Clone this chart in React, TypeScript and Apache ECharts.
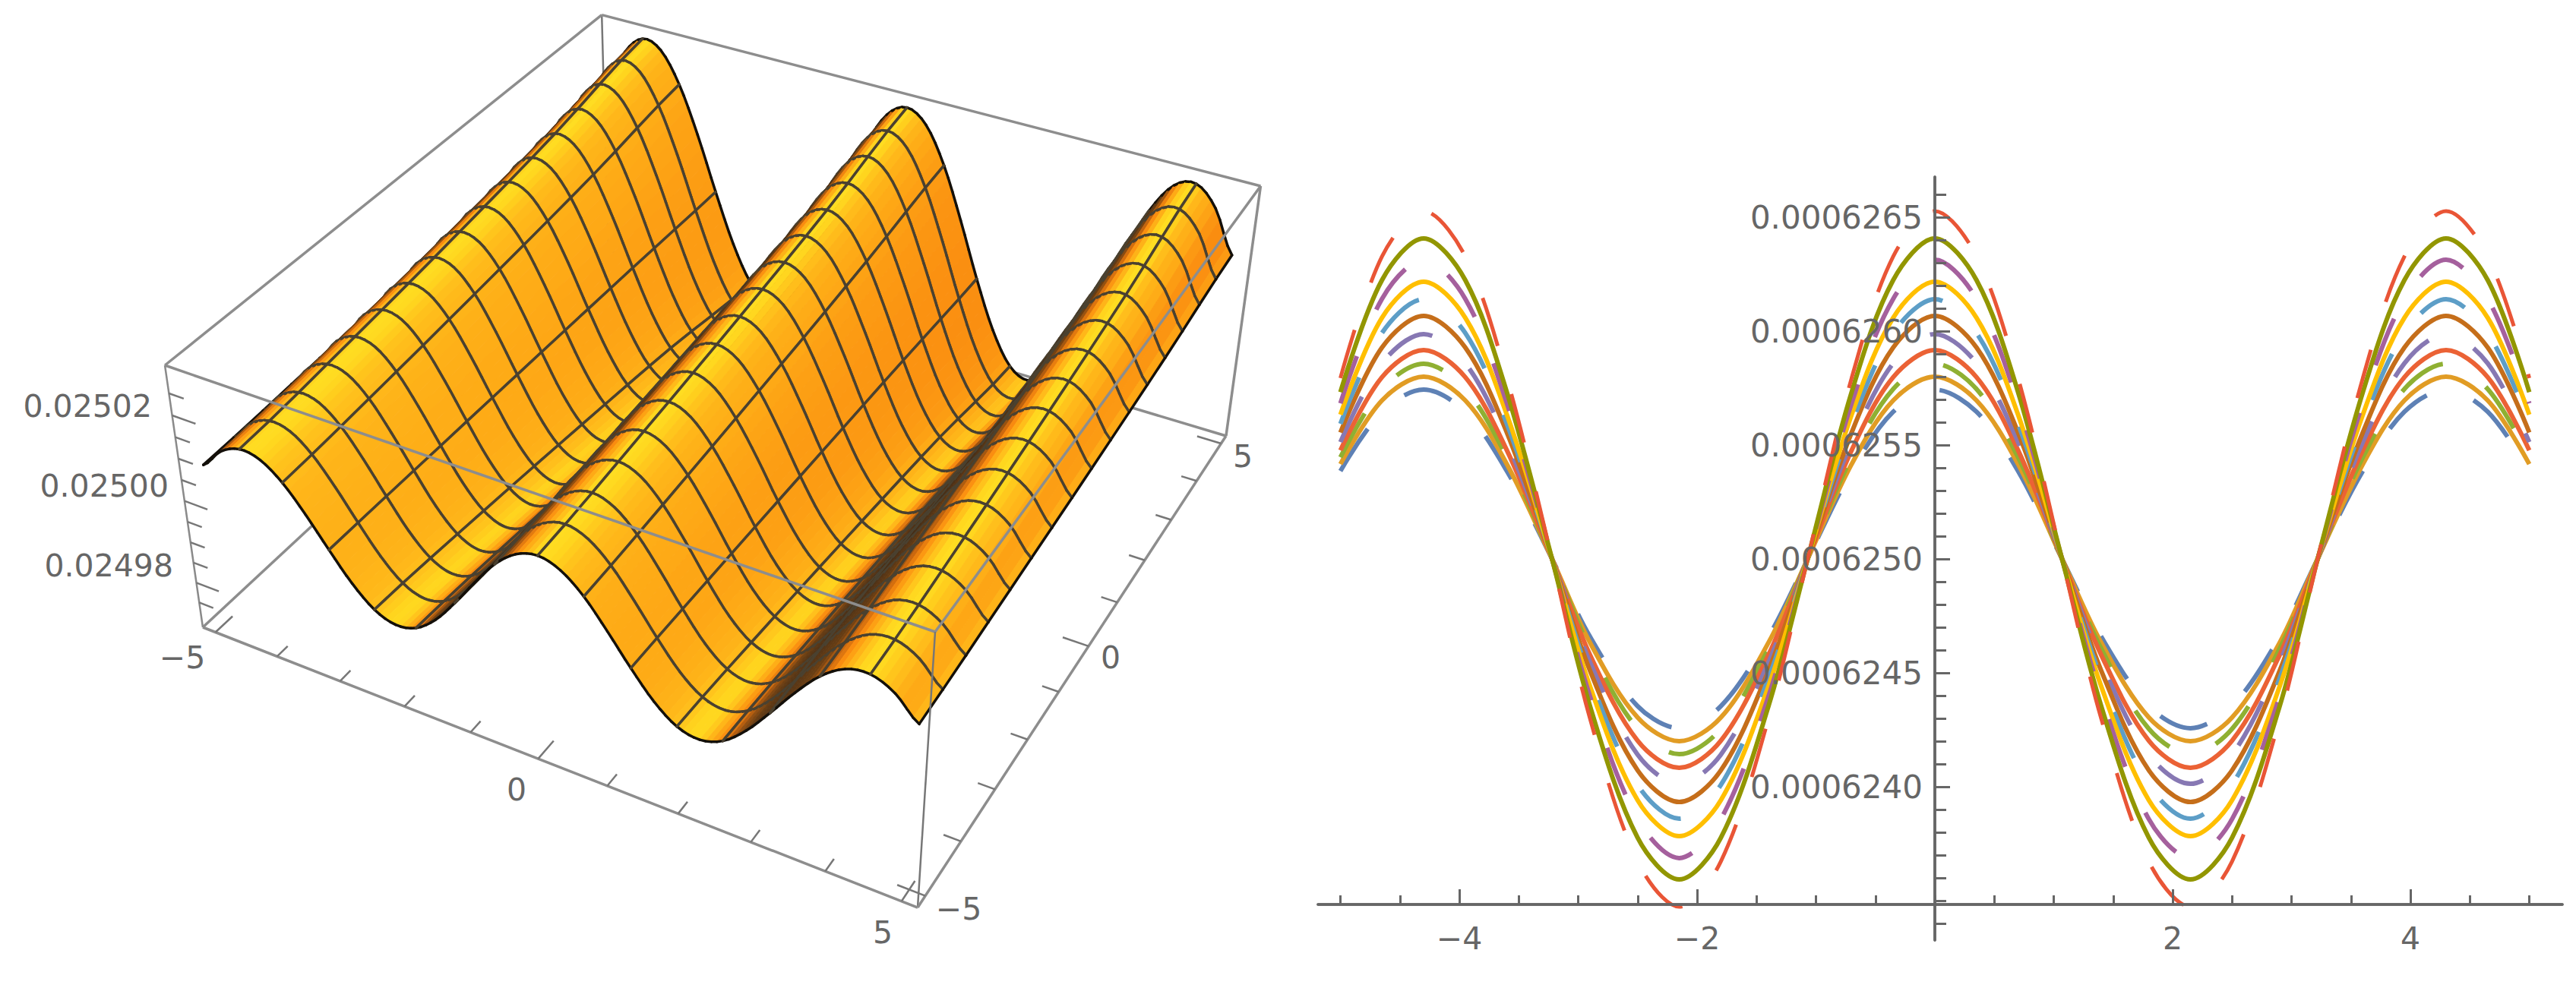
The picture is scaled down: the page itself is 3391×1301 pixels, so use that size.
import React, { useEffect, useRef } from "react";
import * as echarts from "echarts";

// ---------- right panel: slices, values in units of 1e-8 ----------
const sliceX = [-5, -4.65, -4.3, -3.95, -3.6, -3.22, -2.9, -2.5, -2.15, -1.8, -1.4, -1.07, -0.7, -0.35, 0, 0.35, 0.7, 1.07, 1.4, 1.8, 2.15, 2.5, 2.9, 3.22, 3.6, 3.95, 4.3, 4.65, 5];
const sliceBlue = [62538.6, 62564.6, 62574.3, 62564.6, 62538.6, 62500, 62465.8, 62435.4, 62425.7, 62435.4, 62465.8, 62500, 62538.6, 62564.6, 62574.3, 62564.6, 62538.6, 62500, 62465.8, 62435.4, 62425.7, 62435.4, 62465.8, 62500, 62538.6, 62564.6, 62574.3, 62564.6, 62538.6];
const sliceOrange = [62541.6, 62569.6, 62580, 62569.6, 62541.6, 62500, 62463.2, 62430.4, 62420, 62430.4, 62463.2, 62500, 62541.6, 62569.6, 62580, 62569.6, 62541.6, 62500, 62463.2, 62430.4, 62420, 62430.4, 62463.2, 62500, 62541.6, 62569.6, 62580, 62569.6, 62541.6];
const sliceGreen = [62544.6, 62574.6, 62585.7, 62574.6, 62544.6, 62500, 62460.6, 62425.4, 62414.3, 62425.4, 62460.6, 62500, 62544.6, 62574.6, 62585.7, 62574.6, 62544.6, 62500, 62460.6, 62425.4, 62414.3, 62425.4, 62460.6, 62500, 62544.6, 62574.6, 62585.7, 62574.6, 62544.6];
const sliceRed = [62547.7, 62579.8, 62591.7, 62579.8, 62547.7, 62500, 62457.8, 62420.2, 62408.3, 62420.2, 62457.8, 62500, 62547.7, 62579.8, 62591.7, 62579.8, 62547.7, 62500, 62457.8, 62420.2, 62408.3, 62420.2, 62457.8, 62500, 62547.7, 62579.8, 62591.7, 62579.8, 62547.7];
const slicePurple = [62551.3, 62585.9, 62598.7, 62585.9, 62551.3, 62500, 62454.6, 62414.1, 62401.3, 62414.1, 62454.6, 62500, 62551.3, 62585.9, 62598.7, 62585.9, 62551.3, 62500, 62454.6, 62414.1, 62401.3, 62414.1, 62454.6, 62500, 62551.3, 62585.9, 62598.7, 62585.9, 62551.3];
const sliceBrown = [62555.5, 62592.8, 62606.7, 62592.8, 62555.5, 62500, 62450.9, 62407.2, 62393.3, 62407.2, 62450.9, 62500, 62555.5, 62592.8, 62606.7, 62592.8, 62555.5, 62500, 62450.9, 62407.2, 62393.3, 62407.2, 62450.9, 62500, 62555.5, 62592.8, 62606.7, 62592.8, 62555.5];
const sliceSky = [62559.3, 62599.2, 62614, 62599.2, 62559.3, 62500, 62447.6, 62400.8, 62386, 62400.8, 62447.6, 62500, 62559.3, 62599.2, 62614, 62599.2, 62559.3, 62500, 62447.6, 62400.8, 62386, 62400.8, 62447.6, 62500, 62559.3, 62599.2, 62614, 62599.2, 62559.3];
const sliceYellow = [62563.3, 62605.9, 62621.7, 62605.9, 62563.3, 62500, 62444, 62394.1, 62378.3, 62394.1, 62444, 62500, 62563.3, 62605.9, 62621.7, 62605.9, 62563.3, 62500, 62444, 62394.1, 62378.3, 62394.1, 62444, 62500, 62563.3, 62605.9, 62621.7, 62605.9, 62563.3];
const sliceMagenta = [62568.3, 62614.2, 62631.3, 62614.2, 62568.3, 62500, 62439.6, 62385.8, 62368.7, 62385.8, 62439.6, 62500, 62568.3, 62614.2, 62631.3, 62614.2, 62568.3, 62500, 62439.6, 62385.8, 62368.7, 62385.8, 62439.6, 62500, 62568.3, 62614.2, 62631.3, 62614.2, 62568.3];
const sliceOlive = [62573.2, 62622.4, 62640.7, 62622.4, 62573.2, 62500, 62435.3, 62377.6, 62359.3, 62377.6, 62435.3, 62500, 62573.2, 62622.4, 62640.7, 62622.4, 62573.2, 62500, 62435.3, 62377.6, 62359.3, 62377.6, 62435.3, 62500, 62573.2, 62622.4, 62640.7, 62622.4, 62573.2];
const sliceCoral = [62579.4, 62632.8, 62652.7, 62632.8, 62579.4, 62500, 62429.8, 62367.2, 62347.3, 62367.2, 62429.8, 62500, 62579.4, 62632.8, 62652.7, 62632.8, 62579.4, 62500, 62429.8, 62367.2, 62347.3, 62367.2, 62429.8, 62500, 62579.4, 62632.8, 62652.7, 62632.8, 62579.4];

const slices: [number[], string, boolean, number][] = [
  [sliceBlue, "#5E81B5", true, 6],
  [sliceOrange, "#E19C24", false, 6],
  [sliceGreen, "#8FB032", true, 6],
  [sliceRed, "#EB6235", false, 6],
  [slicePurple, "#8778B3", true, 6],
  [sliceBrown, "#C56E1A", false, 6],
  [sliceSky, "#5D9EC7", true, 6],
  [sliceYellow, "#FFBF00", false, 6],
  [sliceMagenta, "#A5609D", true, 6],
  [sliceOlive, "#929600", false, 6],
  [sliceCoral, "#E95536", true, 5],
];

const xMajorTicks = [-4, -2, 2, 4];
const xMinorTicks = [-5, -4.5, -3.5, -3, -2.5, -1.5, -1, -0.5, 0, 0.5, 1, 1.5, 2.5, 3, 3.5, 4.5, 5];
const yMajorTicks = [0.000624, 0.0006245, 0.000625, 0.0006255, 0.000626, 0.0006265];
const yMinorTicks = [0.0006234, 0.0006235, 0.0006236, 0.0006237, 0.0006238, 0.0006239, 0.0006241, 0.0006242, 0.0006243, 0.0006244, 0.0006246, 0.0006247, 0.0006248, 0.0006249, 0.0006251, 0.0006252, 0.0006253, 0.0006254, 0.0006256, 0.0006257, 0.0006258, 0.0006259, 0.0006261, 0.0006262, 0.0006263, 0.0006264, 0.0006266];

// ---------- left panel: surface heights, units of 1e-6 ----------
const surfaceX = [-5, -4.6875, -4.375, -4.0625, -3.75, -3.4375, -3.125, -2.8125, -2.5, -2.1875, -1.875, -1.5625, -1.25, -0.9375, -0.625, -0.3125, 0, 0.3125, 0.625, 0.9375, 1.25, 1.5625, 1.875, 2.1875, 2.5, 2.8125, 3.125, 3.4375, 3.75, 4.0625, 4.375, 4.6875, 5];
const surfaceY = [-5, -2.5, 0, 2.5, 5];
const rowYm5 = [25007.6, 25012.4, 25014.6, 25013.8, 25010.2, 25004.5, 24997.9, 24991.7, 24987.2, 24985.4, 24986.5, 24990.4, 24996.3, 25002.9, 25009.0, 25013.1, 25014.6, 25013.1, 25009.0, 25002.9, 24996.3, 24990.4, 24986.5, 24985.4, 24987.2, 24991.7, 24997.9, 25004.5, 25010.2, 25013.8, 25014.6, 25012.4, 25007.6];
const rowYm25 = [25009.1, 25014.7, 25017.3, 25016.4, 25012.1, 25005.3, 24997.5, 24990.1, 24984.8, 24982.6, 24984.0, 24988.6, 24995.6, 25003.5, 25010.6, 25015.6, 25017.4, 25015.6, 25010.6, 25003.5, 24995.6, 24988.6, 24984.0, 24982.6, 24984.8, 24990.1, 24997.5, 25005.3, 25012.1, 25016.4, 25017.3, 25014.7, 25009.1];
const rowY0 = [25010.8, 25017.6, 25020.7, 25019.6, 25014.5, 25006.4, 24997.0, 24988.2, 24981.8, 24979.2, 24980.8, 24986.4, 24994.7, 25004.2, 25012.7, 25018.7, 25020.8, 25018.7, 25012.7, 25004.2, 24994.7, 24986.4, 24980.8, 24979.2, 24981.8, 24988.2, 24997.0, 25006.4, 25014.5, 25019.6, 25020.7, 25017.6, 25010.8];
const rowYp25 = [25012.9, 25020.9, 25024.7, 25023.3, 25017.2, 25007.6, 24996.4, 24986.0, 24978.4, 24975.2, 24977.2, 24983.8, 24993.7, 25005.0, 25015.2, 25022.3, 25024.8, 25022.3, 25015.2, 25005.0, 24993.7, 24983.8, 24977.2, 24975.2, 24978.4, 24986.0, 24996.4, 25007.6, 25017.2, 25023.3, 25024.7, 25020.9, 25012.9];
const rowYp5 = [25015.6, 25025.4, 25029.9, 25028.2, 25020.8, 25009.2, 24995.6, 24983.0, 24973.8, 24970.0, 24972.3, 24980.4, 24992.4, 25006.0, 25018.4, 25027.0, 25030.0, 25027.0, 25018.4, 25006.0, 24992.4, 24980.4, 24972.3, 24970.0, 24973.8, 24983.0, 24995.6, 25009.2, 25020.8, 25028.2, 25029.9, 25025.4, 25015.6];
const surfaceRows = [rowYm5, rowYm25, rowY0, rowYp25, rowYp5];
const zTicksMajor = [24980, 25000, 25020];
const zTicksMinor = [24975, 24985, 24990, 24995, 25005, 25010, 25015, 25025];
const horizTicks = [-5, -4, -3, -2, -1, 0, 1, 2, 3, 4, 5];

// ---------- view of the box ----------
const toU = (x: number) => 0.02 + (0.96 * (x + 5)) / 10;
const toV = (y: number) => 0.02 + (0.96 * (y + 5)) / 10;
const toW = (z: number) => 0.5 + (z - 25000) / 62.6;
const EYE = [1.802, -1.921, 5.437];
function project(u: number, v: number, w: number): [number, number] {
  const d = 1 - 0.1166 * u + 0.215 * v - 0.0693 * w;
  return [267 + (831.3 * u + 648.2 * v - 46.5 * w) / d, 826 + (326 * u - 602.8 * v - 321.1 * w) / d];
}
const cr = (a: number, b: number, c: number, d: number, t: number) =>
  0.5 * (2 * b + (c - a) * t + (2 * a - 5 * b + 4 * c - d) * t * t + (3 * b - a - 3 * c + d) * t * t * t);
const at = (arr: number[], i: number) => arr[Math.max(0, Math.min(arr.length - 1, i))];
function along(arr: number[], f: number) {
  const i = Math.min(arr.length - 2, Math.floor(f));
  return cr(at(arr, i - 1), at(arr, i), at(arr, i + 1), at(arr, i + 2), f - i);
}
function heightAt(x: number, y: number) {
  const cf = ((x - surfaceX[0]) / (surfaceX[surfaceX.length - 1] - surfaceX[0])) * (surfaceX.length - 1);
  const rf = ((y - surfaceY[0]) / (surfaceY[surfaceY.length - 1] - surfaceY[0])) * (surfaceY.length - 1);
  return along(surfaceRows.map((r) => along(r, cf)), rf);
}
const STOPS: [number, number[]][] = [
  [0.0, [62, 42, 24]],
  [0.1, [105, 62, 20]],
  [0.2, [205, 105, 14]],
  [0.3, [250, 140, 16]],
  [0.45, [254, 170, 22]],
  [0.65, [255, 192, 28]],
  [0.82, [255, 212, 30]],
  [1.0, [255, 222, 34]],
];
function shade(g: number) {
  const t = Math.max(0, Math.min(1, g));
  for (let i = 1; i < STOPS.length; i++) {
    if (t <= STOPS[i][0]) {
      const [a, ca] = STOPS[i - 1];
      const [b, cb] = STOPS[i];
      const f = (t - a) / (b - a);
      return `rgb(${ca.map((c, k) => Math.round(c + (cb[k] - c) * f)).join(",")})`;
    }
  }
  return "rgb(255,222,34)";
}

const NX = 128;
const NY = 16;
const MESH = "#4a4130";
const EDGE = "#14100a";
const BOX = "#8d8d8d";

type Item =
  | { kind: "line"; a: number[]; b: number[]; color: string; width: number }
  | { kind: "quad"; pts: number[][]; fill: string; lines: { a: number[]; b: number[]; edge: boolean }[] };

function buildItems(): Item[] {
  const items: Item[] = [];
  const c = (u: number, v: number, w: number) => project(u, v, w);
  const edge = (a: number[], b: number[], color = BOX, width = 3.5) => items.push({ kind: "line", a, b, color, width });
  // hidden edges first
  edge(c(0, 0, 0), c(0, 1, 0));
  edge(c(0, 1, 0), c(1, 1, 0));
  edge(c(0, 1, 0), c(0, 1, 1), "#777", 2.5);
  edge(c(0, 0, 1), c(0, 1, 1));
  edge(c(0, 1, 1), c(1, 1, 1));
  edge(c(0, 0, 0), c(0, 0, 1), "#8a8a8a", 2.5);
  edge(c(1, 1, 0), c(1, 1, 1));

  const P = (i: number, j: number) => {
    const x = -5 + (10 * i) / NX;
    const y = -5 + (10 * j) / NY;
    return project(toU(x), toV(y), toW(heightAt(x, y)));
  };
  for (let j = NY - 1; j >= 0; j--) {
    for (let i = 0; i < NX; i++) {
      const x = -5 + (10 * (i + 0.5)) / NX;
      const y = -5 + (10 * (j + 0.5)) / NY;
      const dx = 0.04;
      const dy = 0.2;
      const dwdu = (toW(heightAt(x + dx, y)) - toW(heightAt(x - dx, y))) / ((2 * dx * 0.96) / 10);
      const dwdv = (toW(heightAt(x, y + dy)) - toW(heightAt(x, y - dy))) / ((2 * dy * 0.96) / 10);
      const u = toU(x);
      const v = toV(y);
      const w = toW(heightAt(x, y));
      const n = [-dwdu, -dwdv, 1];
      const V = [EYE[0] - u, EYE[1] - v, EYE[2] - w];
      const g =
        (n[0] * V[0] + n[1] * V[1] + n[2] * V[2]) /
        (Math.hypot(n[0], n[1], n[2]) * Math.hypot(V[0], V[1], V[2]));
      const p00 = P(i, j);
      const p10 = P(i + 1, j);
      const p11 = P(i + 1, j + 1);
      const p01 = P(i, j + 1);
      const lines: { a: number[]; b: number[]; edge: boolean }[] = [];
      if (j === 0) lines.push({ a: p00, b: p10, edge: true });
      else lines.push({ a: p00, b: p10, edge: false });
      if (j === NY - 1) lines.push({ a: p01, b: p11, edge: true });
      else lines.push({ a: p01, b: p11, edge: false });
      if (i === 0) lines.push({ a: p00, b: p01, edge: true });
      else if (i % 8 === 0) lines.push({ a: p00, b: p01, edge: false });
      if (i === NX - 1) lines.push({ a: p10, b: p11, edge: true });
      else if ((i + 1) % 8 === 0) lines.push({ a: p10, b: p11, edge: false });
      items.push({ kind: "quad", pts: [p00, p10, p11, p01], fill: shade(g), lines });
    }
  }
  // edges in front of the surface
  edge(c(0, 0, 1), c(1, 0, 1));
  edge(c(1, 0, 1), c(1, 1, 1));
  edge(c(1, 0, 0), c(1, 0, 1), "#777", 2.5);
  edge(c(0, 0, 0), c(1, 0, 0));
  edge(c(1, 0, 0), c(1, 1, 0));
  // ticks
  const tick = "#777";
  horizTicks.forEach((t) => {
    const len = t % 5 === 0 ? 0.035 : 0.022;
    edge(project(toU(t), 0, 0), project(toU(t), len, 0), tick, 2.5);
    edge(project(1, toV(t), 0), project(1 - len, toV(t), 0), tick, 2.5);
  });
  zTicksMajor.forEach((z) => edge(project(0, 0, toW(z)), project(0.035, 0, toW(z)), tick, 2.5));
  zTicksMinor.forEach((z) => edge(project(0, 0, toW(z)), project(0.022, 0, toW(z)), tick, 2.5));
  return items;
}

const GREY = "#666666";
const FONT = '41px "DejaVu Sans"';
const boxLabels: [string, number, number, string][] = [
  ["0.02502", 200, 535, "right"],
  ["0.02500", 222, 640, "right"],
  ["0.02498", 228, 745, "right"],
  ["\u22125", 240, 866, "center"],
  ["0", 680, 1040, "center"],
  ["5", 1162, 1228, "center"],
  ["\u22125", 1262, 1197, "center"],
  ["0", 1462, 866, "center"],
  ["5", 1636, 601, "center"],
];

const X_MIN = (1735 - 2547) / 156.5;
const X_MAX = (3373 - 2547) / 156.5;
const Y_MAX = 0.000625 + ((736 - 233) / 150) * 5e-7;
const Y_MIN = 0.000625 + ((736 - 1238) / 150) * 5e-7;

export default function App() {
  const ref = useRef<HTMLDivElement>(null);
  useEffect(() => {
    const chart = echarts.init(ref.current!, undefined, { renderer: "svg" });
    const items = buildItems();
    const axisLine = { lineStyle: { color: GREY, width: 3.5 } };
    const mkTick = (len: number, vals: number[]) => ({
      show: true,
      inside: true,
      length: len,
      customValues: vals,
      lineStyle: { color: GREY, width: 3 },
    });
    const option: any = {
      animation: false,
      backgroundColor: "#ffffff",
      grid: [
        { left: 1735, top: 233, width: 3373 - 1735, height: 1238 - 233 },
        { left: 1735, top: 233, width: 3373 - 1735, height: 1191 - 233 },
        { left: 2547, top: 233, width: 3373 - 2547, height: 1238 - 233 },
      ],
      xAxis: [
        { type: "value", gridIndex: 0, min: X_MIN, max: X_MAX, show: false, splitLine: { show: false }, axisLine: { onZero: false } },
        {
          type: "value", gridIndex: 1, min: X_MIN, max: X_MAX, position: "bottom", z: 5,
          axisLine: { ...axisLine, onZero: false }, splitLine: { show: false },
          axisTick: mkTick(12, xMinorTicks), axisLabel: { show: false },
        },
        {
          type: "value", gridIndex: 1, min: X_MIN, max: X_MAX, position: "bottom", z: 5,
          axisLine: { ...axisLine, onZero: false }, splitLine: { show: false },
          axisTick: mkTick(20, xMajorTicks),
          axisLabel: {
            show: true, customValues: xMajorTicks, margin: 24, color: GREY, fontSize: 41, fontFamily: "DejaVu Sans",
            formatter: (v: number) => (v < 0 ? "\u2212" + Math.abs(v) : String(v)),
          },
        },
        { type: "value", gridIndex: 2, min: 0, max: 1, show: false, splitLine: { show: false }, axisLine: { onZero: false } },
      ],
      yAxis: [
        { type: "value", gridIndex: 0, min: Y_MIN, max: Y_MAX, show: false, splitLine: { show: false }, axisLine: { onZero: false } },
        { type: "value", gridIndex: 1, min: 0, max: 1, show: false, splitLine: { show: false }, axisLine: { onZero: false } },
        {
          type: "value", gridIndex: 2, min: Y_MIN, max: Y_MAX, position: "left", z: 5,
          axisLine: { ...axisLine, show: true, onZero: false }, splitLine: { show: false },
          axisTick: mkTick(15, yMinorTicks), axisLabel: { show: false },
        },
        {
          type: "value", gridIndex: 2, min: Y_MIN, max: Y_MAX, position: "left", z: 5,
          axisLine: { ...axisLine, show: true, onZero: false }, splitLine: { show: false },
          axisTick: mkTick(20, yMajorTicks),
          axisLabel: {
            show: true, customValues: yMajorTicks, margin: 16, color: GREY, fontSize: 42, fontFamily: "DejaVu Sans",
            formatter: (v: number) => v.toFixed(7),
          },
        },
      ],
      graphic: {
        elements: boxLabels.map(([text, x, y, align]) => ({
          type: "text", x, y, silent: true,
          style: { text, align, verticalAlign: "middle", font: FONT, fill: GREY },
        })),
      },
      series: [
        ...slices.map(([vals, color, dashed, width]) => ({
          type: "line", xAxisIndex: 0, yAxisIndex: 0, z: 2, silent: true,
          data: vals.map((v, i) => [sliceX[i], v * 1e-8]),
          smooth: 0.33, showSymbol: false,
          lineStyle: { color, width, type: dashed ? [66, 66] : "solid", cap: "butt" },
        })),
        {
          type: "custom", coordinateSystem: "none", silent: true, z: 1, clip: false,
          data: items.map((_, i) => [i]),
          renderItem: (params: any) => {
            const it = items[params.dataIndex];
            if (it.kind === "line") {
              return {
                type: "line",
                shape: { x1: it.a[0], y1: it.a[1], x2: it.b[0], y2: it.b[1] },
                style: { stroke: it.color, lineWidth: it.width, fill: null },
              };
            }
            return {
              type: "group",
              children: [
                {
                  type: "polygon",
                  shape: { points: it.pts },
                  style: { fill: it.fill, stroke: it.fill, lineWidth: 1 },
                },
                ...it.lines.map((l) => ({
                  type: "line",
                  shape: { x1: l.a[0], y1: l.a[1], x2: l.b[0], y2: l.b[1] },
                  style: { stroke: l.edge ? EDGE : MESH, lineWidth: l.edge ? 3.5 : 3.5, lineCap: "round", fill: null },
                })),
              ],
            };
          },
        },
      ],
    };
    chart.setOption(option);
    return () => chart.dispose();
  }, []);
  return <div ref={ref} style={{ position: "fixed", left: 0, top: 0, width: 3391, height: 1301 }} />;
}
